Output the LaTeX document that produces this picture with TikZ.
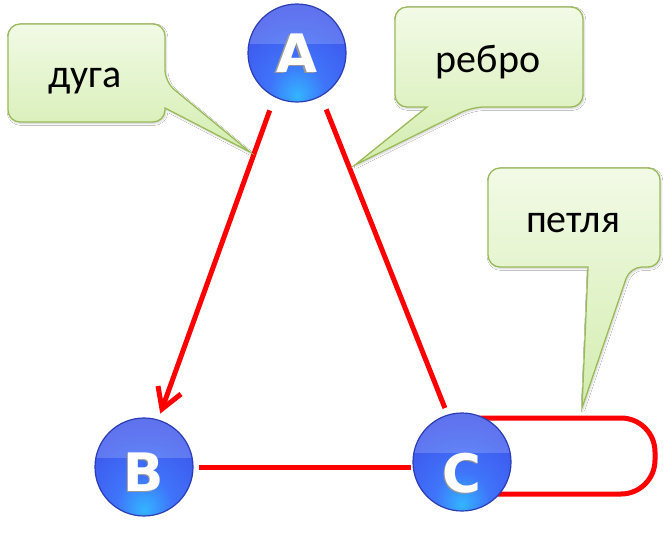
\documentclass[tikz,border=0pt]{standalone}
\usepackage{fontspec}
\setmainfont{Carlito}
\newfontfamily\ballfont{DejaVu Sans}
\usetikzlibrary{arrows.meta,backgrounds,shadows.blur}
\definecolor{edgered}{HTML}{FF0000}
\definecolor{calloutborder}{HTML}{9BBB59}
\definecolor{callouttop}{HTML}{F2FAE6}
\definecolor{calloutbottom}{HTML}{D3EDAF}
\definecolor{ballglow}{HTML}{33B5FF}
\definecolor{ballmid}{HTML}{3F74FA}
\definecolor{ballmain}{HTML}{3E56EC}
\definecolor{balledge}{HTML}{3444D2}
\definecolor{ballborder}{HTML}{2C3CB4}
\pgfdeclareradialshading{ballshade}{\pgfpoint{0bp}{-22bp}}{color(0bp)=(ballglow); color(14bp)=(ballmid); color(35bp)=(ballmain); color(70bp)=(balledge); color(100bp)=(balledge)}
\newcommand\droptext[2]{\raisebox{-#1}[\height][\depth]{#2}}
\begin{document}
\begin{tikzpicture}[x=1pt,y=-1pt,
  redline/.style={draw=edgered, line width=5pt},
  callout/.style={draw=calloutborder, line width=1.3pt, top color=callouttop, bottom color=calloutbottom, rounded corners=12pt,
    blur shadow={shadow xshift=1pt, shadow yshift=-1.5pt, shadow blur steps=5, shadow opacity=20}},
  calltext/.style={anchor=base, font=\fontsize{40}{48}\selectfont, inner sep=0pt},
  vertex/.style n args={2}{circle, minimum size=98pt, inner sep=0pt, draw=ballborder, line width=1.2pt, shade, shading=ballshade,
    text=white, font=\ballfont\bfseries\fontsize{53}{53}\selectfont,
    path picture={
      \fill[white, fill opacity=.18] ([yshift=9pt]path picture bounding box.west) rectangle (path picture bounding box.north east);
      \pgftext[at=\pgfpointadd{\pgfpointanchor{path picture bounding box}{center}}{\pgfpoint{-1.5pt}{-1.5pt}}]{\ballfont\bfseries\fontsize{53}{53}\selectfont\color{black!40}\droptext{#2}{#1}};
    }}
]
\useasboundingbox (0,0) rectangle (668,536);
% callout tips
\coordinate (dugaTip) at (250,152);
\coordinate (rebroTip) at (355,165);
\coordinate (petlyaTip) at (582,408);
\path[callout] (8,73) |- (165,24) -- (165,82) [sharp corners] -- (dugaTip) -- (165,108) [rounded corners=12pt] |- (8,122) -- cycle;
\path[callout] (395,57) |- (583,7) |- (472,107) [sharp corners] -- (rebroTip) -- (427,107) [rounded corners=12pt] -| (395,57) -- cycle;
\path[callout] (488,217) |- (660,168) |- (630,267) [sharp corners] -- (petlyaTip) -- (588,267) [rounded corners=12pt] -| (488,217) -- cycle;
\node[calltext] (duga) at (85,87) {дуга};
\node[calltext] (rebro) at (488,72) {ребро};
\node[calltext] (petlya) at (573,232) {петля};
% vertices
\node[vertex={A}{0pt}] (A) at (297,53) {A};
\node[vertex={B}{5pt}] (B) at (144,467) {\droptext{5pt}{B}};
\node[vertex={C}{11pt}] (C) at (462,462) {\droptext{11pt}{C}};
% arrow head of the arc A -> B
\coordinate (abTip) at (162,409);
\coordinate (abBarbL) at (158,386);
\coordinate (abBarbR) at (181,394);
\begin{pgfonlayer}{background}
\fill[white] (0,0) rectangle (668,536);
\draw[redline, shorten <=14pt] (A.-117) -- (abTip);
\draw[redline, line join=miter, line cap=butt] (abBarbL) -- (abTip) -- (abBarbR);
\draw[redline, shorten <=14pt, shorten >=7pt] (A.-61.5) -- (C.107.5);
\draw[redline, shorten <=5pt, shorten >=1pt] (B.east) -- (B.east -| C.west);
\draw[redline, rounded corners=34pt] ([yshift=44pt]C.center) -- ++(193,0) -- ++(0,76) -- ++(-193,0);
\end{pgfonlayer}
\end{tikzpicture}
\end{document}
